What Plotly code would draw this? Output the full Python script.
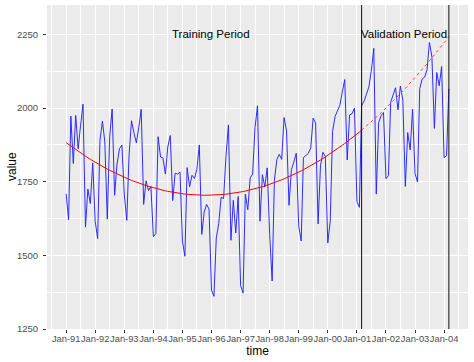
import numpy as np
import pandas as pd
import plotly.graph_objects as go

# Monthly ridership (thousands), Jan-1991 .. Mar-2004
ridership_1991 = [1709, 1621, 1973, 1812, 1975, 1862, 1940, 2013, 1596, 1725, 1676, 1814]
ridership_1992 = [1615, 1557, 1891, 1956, 1885, 1623, 1903, 1997, 1704, 1810, 1862, 1875]
ridership_1993 = [1705, 1619, 1837, 1957, 1917, 1882, 1933, 1996, 1673, 1753, 1720, 1734]
ridership_1994 = [1563, 1574, 1903, 1834, 1831, 1776, 1868, 1907, 1686, 1779, 1776, 1783]
ridership_1995 = [1548, 1497, 1798, 1733, 1772, 1761, 1792, 1875, 1571, 1647, 1673, 1657]
ridership_1996 = [1382, 1361, 1559, 1608, 1697, 1693, 1836, 1943, 1551, 1687, 1576, 1700]
ridership_1997 = [1397, 1372, 1708, 1655, 1763, 1776, 1934, 2008, 1616, 1774, 1732, 1797]
ridership_1998 = [1570, 1413, 1755, 1825, 1843, 1826, 1968, 1922, 1670, 1791, 1817, 1847]
ridership_1999 = [1599, 1549, 1832, 1840, 1846, 1865, 1966, 1949, 1607, 1804, 1850, 1836]
ridership_2000 = [1542, 1617, 1920, 1971, 1992, 2010, 2054, 2097, 1824, 1977, 1981, 2000]
ridership_2001 = [1683, 1663, 2008, 2024, 2047, 2073, 2127, 2203, 1708, 1951, 1974, 1985]
ridership_2002 = [1760, 1771, 2020, 2048, 2069, 1994, 2075, 2027, 1734, 1917, 1858, 1996]
ridership_2003 = [1778, 1749, 2066, 2099, 2105, 2130, 2223, 2174, 1931, 2121, 2076, 2141]
ridership_2004 = [1832, 1838, 2065]

ridership = (ridership_1991 + ridership_1992 + ridership_1993 + ridership_1994 +
             ridership_1995 + ridership_1996 + ridership_1997 + ridership_1998 +
             ridership_1999 + ridership_2000 + ridership_2001 + ridership_2002 +
             ridership_2003 + ridership_2004)

months = pd.date_range("1991-01-01", periods=len(ridership), freq="MS")
n_train = 123  # Jan-91 .. Mar-01

tick_dates = ["1991-01-01", "1992-01-01", "1993-01-01", "1994-01-01", "1995-01-01",
              "1996-01-01", "1997-01-01", "1998-01-01", "1999-01-01", "2000-01-01",
              "2001-01-01", "2002-01-01", "2003-01-01", "2004-01-01"]
tick_labels = ["Jan-91", "Jan-92", "Jan-93", "Jan-94", "Jan-95", "Jan-96", "Jan-97",
               "Jan-98", "Jan-99", "Jan-00", "Jan-01", "Jan-02", "Jan-03", "Jan-04"]
y_ticks = [1250, 1500, 1750, 2000, 2250]

period_lines = ["2001-03-01", "2004-03-01"]
labels_text = ["Training Period", "Validation Period"]
labels_x = ["1996-01-01", "2002-08-20"]
labels_y = [2250, 2250]

# quadratic trend fitted on the training period
t = np.arange(1, len(ridership) + 1)
coef = np.polyfit(t[:n_train], np.array(ridership[:n_train], dtype=float), 2)
trend = np.polyval(coef, t)

FONT = "Liberation Sans, Arial, sans-serif"
W, H = 474, 362
ML, MR, MT, MB = 47, 6, 5, 33

fig = go.Figure()
fig.add_trace(go.Scatter(x=months, y=ridership, mode="lines",
                         line=dict(color="#2222ff", width=0.95), showlegend=False))
fig.add_trace(go.Scatter(x=months[:n_train], y=trend[:n_train], mode="lines",
                         line=dict(color="#FF0000", width=1), showlegend=False))
fig.add_trace(go.Scatter(x=months[n_train - 1:], y=trend[n_train - 1:], mode="lines",
                         line=dict(color="#FF4040", width=1, dash="dot"), showlegend=False))

for d in period_lines:
    fig.add_shape(type="line", xref="x", yref="paper", x0=d, x1=d, y0=0, y1=1,
                  line=dict(color="#111111", width=1))

for txt, xx, yy in zip(labels_text, labels_x, labels_y):
    fig.add_annotation(x=xx, y=yy, text=txt, showarrow=False,
                       font=dict(family=FONT, size=11.5, color="black"))

# y axis title
fig.add_annotation(xref="paper", yref="paper", x=(12 - ML) / (W - ML - MR), y=0.5,
                   text="value", textangle=-90, showarrow=False,
                   xanchor="center", yanchor="middle",
                   font=dict(family=FONT, size=12, color="black"))

span = months[-1] - months[0]
x0 = months[0] - span * 0.05
x1 = months[-1] + span * 0.05

fig.update_layout(
    width=W, height=H,
    margin=dict(l=ML, r=MR, t=MT, b=MB),
    paper_bgcolor="white", plot_bgcolor="#EBEBEB",
    font=dict(family=FONT),
    xaxis=dict(
        range=[x0, x1], tickvals=tick_dates, ticktext=tick_labels, tickangle=0,
        automargin=False,
        tickfont=dict(size=9.3, color="#4D4D4D", family=FONT),
        ticks="outside", ticklen=3, tickcolor="#333333", tickwidth=0.8,
        ticklabelstandoff=-2,
        showgrid=True, gridcolor="white", gridwidth=1.1, zeroline=False, showline=False,
        minor=dict(dtick="M12", tick0="1990-07-01", showgrid=True, gridcolor="white",
                   gridwidth=0.5, ticks=""),
        title=dict(text="time", font=dict(size=12, color="black", family=FONT), standoff=3),
    ),
    yaxis=dict(
        range=[1250, 2350], tickvals=y_ticks, automargin=False,
        tickfont=dict(size=9.5, color="#4D4D4D", family=FONT),
        ticks="outside", ticklen=3, tickcolor="#333333", tickwidth=0.8,
        ticklabelstandoff=3,
        showgrid=True, gridcolor="white", gridwidth=1.1, zeroline=False, showline=False,
        minor=dict(dtick=250, tick0=1375, showgrid=True, gridcolor="white",
                   gridwidth=0.5, ticks=""),
    ),
)

fig.write_html("out.html", config={"displayModeBar": False},
               post_script="document.body.style.margin='0';")
